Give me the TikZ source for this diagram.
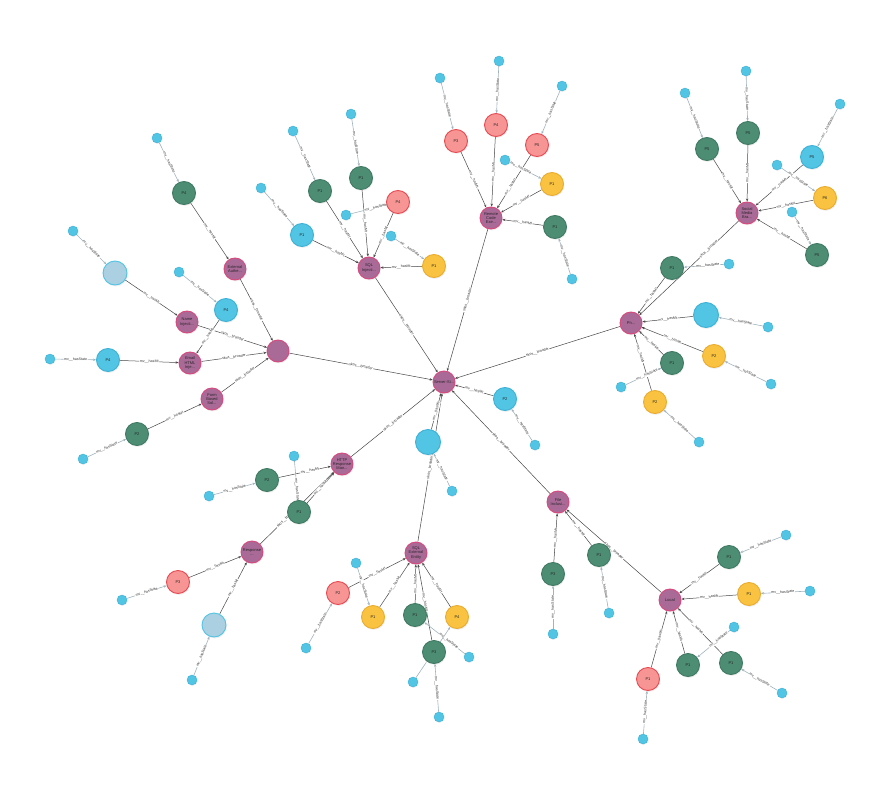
\documentclass[tikz,border=0pt]{standalone}
\usepackage{fontspec}
\setmainfont{Liberation Sans}
\usetikzlibrary{arrows.meta,shadows}
\definecolor{hubF}{RGB}{170,106,152}
\definecolor{hubD}{RGB}{216,72,124}
\definecolor{grF}{RGB}{76,141,116}
\definecolor{grD}{RGB}{64,122,99}
\definecolor{rdF}{RGB}{247,148,148}
\definecolor{rdD}{RGB}{232,74,82}
\definecolor{yeF}{RGB}{249,194,64}
\definecolor{yeD}{RGB}{234,172,46}
\definecolor{cyF}{RGB}{82,196,228}
\definecolor{cyD}{RGB}{60,178,214}
\definecolor{lbF}{RGB}{170,208,226}
\definecolor{lbD}{RGB}{82,196,228}
\definecolor{edgeD}{RGB}{70,70,70}
\definecolor{edgeL}{RGB}{160,178,190}
\pgfdeclarelayer{edgelayer}
\pgfsetlayers{edgelayer,main}
\tikzset{
 base/.style={circle, inner sep=0pt, line width=0.9pt, align=center, text=black!85,
   font=\fontsize{4}{4.3}\selectfont,
   drop shadow={opacity=0.13, shadow xshift=0.8pt, shadow yshift=-1.4pt}},
 hub/.style={base, minimum size=22pt, fill=hubF, draw=hubD},
 gp/.style={base, minimum size=23pt, fill=grF, draw=grD},
 rp/.style={base, minimum size=23pt, fill=rdF, draw=rdD},
 yp/.style={base, minimum size=23pt, fill=yeF, draw=yeD},
 cp/.style={base, minimum size=23pt, fill=cyF, draw=cyD},
 bigc/.style={base, minimum size=25pt, fill=cyF, draw=cyD},
 lbp/.style={base, minimum size=24pt, fill=lbF, draw=lbD},
 dotn/.style={circle, inner sep=0pt, minimum size=10pt, fill=cyF, draw=cyD, line width=0.4pt,
   drop shadow={opacity=0.12, shadow xshift=0.6pt, shadow yshift=-1pt}},
 brl/.style={draw=edgeD, line width=0.5pt, -{Stealth[length=3pt,width=2.4pt]}},
 stl/.style={draw=edgeL, line width=0.6pt, -{Stealth[length=3pt,width=2.4pt]}},
 elab/.style={sloped, fill=white, inner sep=0.5pt, font=\fontsize{3.6}{3.9}\selectfont, text=black!80},
}
\newcommand\brE[3][0.5]{\draw[brl] (#2) -- node[elab,pos=#1]{skos\_\_broader} (#3);}
\newcommand\mtE[3][0.5]{\draw[brl] (#2) -- node[elab,pos=#1]{mv\_\_hasMt} (#3);}
\newcommand\stE[3][0.5]{\draw[stl] (#2) -- node[elab,pos=#1]{mv\_\_hasState} (#3);}
\begin{document}
\begin{tikzpicture}[x=1pt,y=-1pt]
\useasboundingbox (0,0) rectangle (881,789);
% hubs
\node[hub] (srv) at (444,382) {Server-Si...};
\node[hub] (A) at (278,351) {};
\node[hub] (ext) at (235,269) {External\\Authe...};
\node[hub] (name) at (187,322) {Name\\Injecti...};
\node[hub] (email) at (190,363) {Email\\HTML\\Inje...};
\node[hub] (form) at (212,399) {Form\\Based\\Sol...};
\node[hub] (sql) at (369,268) {SQL\\Injecti...};
\node[hub] (rce) at (491,218) {Remote\\Code\\Exe...};
\node[hub] (soc) at (747,213) {Social\\Media\\Bra...};
\node[hub] (ph) at (631,323) {Ph...};
\node[hub] (file) at (558,502) {File\\Inclusi...};
\node[hub] (local) at (670,600) {Local};
\node[hub] (sqlx) at (416,553) {SQL\\External\\Entity};
\node[hub] (http) at (342,464) {HTTP\\Response\\Man...};
\node[hub] (resp) at (252,552) {Response\\...};
% P nodes
\node[gp] (pExt) at (184,193) {P4};
\node[lbp] (lb1) at (115,273) {};
\node[cp] (cP4a) at (226,310) {P4};
\node[cp] (cP4b) at (108,360) {P4};
\node[gp] (gForm) at (137,434) {P2};
\node[cp] (sqlC) at (302,235) {P1};
\node[gp] (sqlG1) at (320,191) {P1};
\node[gp] (sqlG2) at (361,178) {P1};
\node[rp] (sqlR) at (398,202) {P4};
\node[yp] (sqlY) at (434,266) {P1};
\node[rp] (rR3) at (456,141) {P3};
\node[rp] (rR4) at (496,125) {P4};
\node[rp] (rR5) at (537,145) {P5};
\node[yp] (rY) at (552,184) {P1};
\node[gp] (rG) at (555,227) {P1};
\node[gp] (sG1) at (707,149) {P5};
\node[gp] (sG2) at (748,133) {P5};
\node[cp] (sC) at (812,157) {P5};
\node[yp] (sY) at (825,198) {P6};
\node[gp] (sG3) at (817,255) {P5};
\node[gp] (phG1) at (672,268) {P1};
\node[bigc] (phC) at (706,315) {};
\node[yp] (phY2) at (714,356) {P2};
\node[gp] (phG2) at (672,363) {P1};
\node[yp] (phY3) at (655,402) {P2};
\node[cp] (svC2) at (505,399) {P2};
\node[bigc] (svC) at (428,442) {};
\node[gp] (hG) at (267,480) {P2};
\node[gp] (hG1) at (299,512) {P1};
\node[rp] (resR) at (178,582) {P3};
\node[lbp] (resLB) at (214,625) {};
\node[rp] (seR) at (338,593) {P2};
\node[yp] (seY1) at (373,617) {P1};
\node[gp] (seG1) at (415,615) {P1};
\node[gp] (seG3) at (434,652) {P3};
\node[yp] (seY4) at (457,617) {P4};
\node[gp] (fG) at (553,574) {P3};
\node[gp] (fG1) at (599,555) {P1};
\node[gp] (lG1) at (729,557) {P1};
\node[yp] (lY) at (749,594) {P1};
\node[gp] (lG2) at (688,665) {P1};
\node[gp] (lG3) at (731,663) {P1};
\node[rp] (lR) at (648,679) {P1};
% dots
\node[dotn] (d1) at (157,138) {};
\node[dotn] (d2) at (73,231) {};
\node[dotn] (d3) at (179,272) {};
\node[dotn] (d4) at (50,359) {};
\node[dotn] (d5) at (83,459) {};
\node[dotn] (d6) at (261,188) {};
\node[dotn] (d7) at (293,131) {};
\node[dotn] (d8) at (351,114) {};
\node[dotn] (d9) at (346,215) {};
\node[dotn] (d10) at (391,236) {};
\node[dotn] (d11) at (440,78) {};
\node[dotn] (d12) at (499,61) {};
\node[dotn] (d13) at (562,86) {};
\node[dotn] (d14) at (505,160) {};
\node[dotn] (d15) at (572,279) {};
\node[dotn] (d16) at (685,93) {};
\node[dotn] (d17) at (746,71) {};
\node[dotn] (d18) at (840,104) {};
\node[dotn] (d19) at (777,165) {};
\node[dotn] (d20) at (792,212) {};
\node[dotn] (d21) at (729,264) {};
\node[dotn] (d22) at (768,327) {};
\node[dotn] (d23) at (771,384) {};
\node[dotn] (d24) at (621,387) {};
\node[dotn] (d25) at (699,442) {};
\node[dotn] (d26) at (535,445) {};
\node[dotn] (d27) at (452,491) {};
\node[dotn] (d28) at (209,496) {};
\node[dotn] (d29) at (294,456) {};
\node[dotn] (d30) at (122,600) {};
\node[dotn] (d31) at (192,680) {};
\node[dotn] (d32) at (306,648) {};
\node[dotn] (d33) at (356,563) {};
\node[dotn] (d34) at (469,657) {};
\node[dotn] (d35) at (413,682) {};
\node[dotn] (d36) at (439,717) {};
\node[dotn] (d37) at (553,634) {};
\node[dotn] (d38) at (609,613) {};
\node[dotn] (d39) at (786,535) {};
\node[dotn] (d40) at (810,591) {};
\node[dotn] (d41) at (734,627) {};
\node[dotn] (d42) at (782,693) {};
\node[dotn] (d43) at (643,739) {};
\begin{pgfonlayer}{edgelayer}
% broader
\brE{ext}{A} \brE{name}{A} \brE{email}{A} \brE{form}{A}
\brE{A}{srv} \brE{sql}{srv} \brE{rce}{srv} \brE{ph}{srv} \brE[0.3]{soc}{ph}
\brE{file}{srv} \brE{local}{file} \brE{sqlx}{srv} \brE{http}{srv} \brE[0.35]{resp}{http}
% hasMt
\mtE{pExt}{ext} \mtE{lb1}{name} \mtE{cP4a}{email} \mtE{cP4b}{email} \mtE{gForm}{form}
\mtE{sqlC}{sql} \mtE{sqlG1}{sql} \mtE{sqlG2}{sql} \mtE{sqlR}{sql} \mtE{sqlY}{sql}
\mtE{rR3}{rce} \mtE{rR4}{rce} \mtE[0.6]{rR5}{rce} \mtE{rY}{rce} \mtE{rG}{rce}
\mtE{sG1}{soc} \mtE{sG2}{soc} \mtE{sC}{soc} \mtE{sY}{soc} \mtE{sG3}{soc}
\mtE{phG1}{ph} \mtE{phC}{ph} \mtE{phY2}{ph} \mtE{phG2}{ph} \mtE[0.65]{phY3}{ph}
\mtE{svC2}{srv} \mtE{svC}{srv}
\mtE[0.6]{hG}{http} \mtE{hG1}{http}
\mtE{resR}{resp} \mtE{resLB}{resp}
\mtE{seR}{sqlx} \mtE{seY1}{sqlx} \mtE{seG1}{sqlx} \mtE{seG3}{sqlx} \mtE{seY4}{sqlx}
\mtE{fG}{file} \mtE{fG1}{file}
\mtE{lG1}{local} \mtE{lY}{local} \mtE{lG2}{local} \mtE[0.6]{lG3}{local} \mtE{lR}{local}
% hasState
\stE{d1}{pExt} \stE{d2}{lb1} \stE{d3}{cP4a} \stE{d4}{cP4b} \stE{d5}{gForm}
\stE{d6}{sqlC} \stE{d7}{sqlG1} \stE{d8}{sqlG2} \stE[0.7]{d9}{sqlR} \stE{d10}{sqlY}
\stE{d11}{rR3} \stE{d12}{rR4} \stE{d13}{rR5} \stE[0.35]{d14}{rY} \stE{d15}{rG}
\stE{d16}{sG1} \stE{d17}{sG2} \stE{d18}{sC} \stE{d19}{sY} \stE{d20}{sG3}
\stE[0.4]{d21}{phG1} \stE{d22}{phC} \stE{d23}{phY2} \stE[0.6]{d24}{phG2} \stE{d25}{phY3}
\stE{d26}{svC2} \stE{d27}{svC} \stE{d28}{hG} \stE[0.73]{d29}{hG1}
\stE{d30}{resR} \stE{d31}{resLB}
\stE{d32}{seR} \stE{d33}{seY1} \stE[0.4]{d34}{seG1} \stE{d35}{seY4} \stE{d36}{seG3}
\stE{d37}{fG} \stE{d38}{fG1}
\stE{d39}{lG1} \stE{d40}{lY} \stE[0.35]{d41}{lG2} \stE{d42}{lG3} \stE{d43}{lR}
\end{pgfonlayer}
\end{tikzpicture}
\end{document}
